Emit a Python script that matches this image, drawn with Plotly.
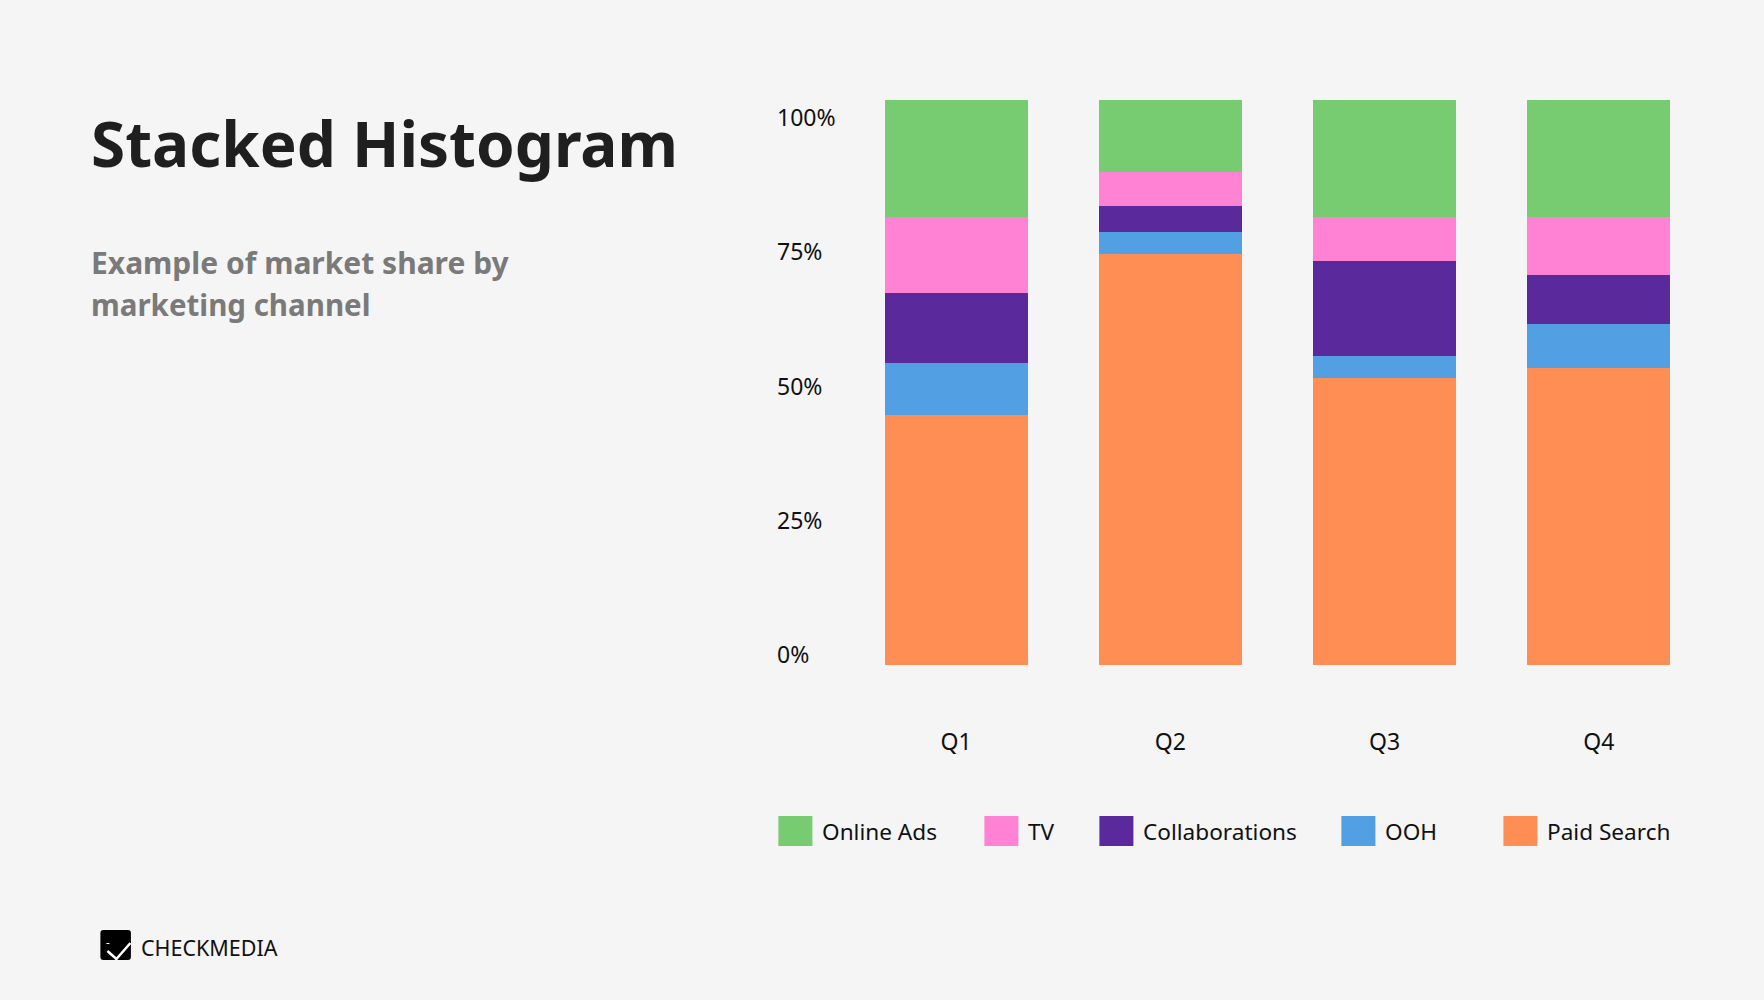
import plotly.graph_objects as go

quarters = ['Q1', 'Q2', 'Q3', 'Q4']
paid_search = [44.2, 72.7, 50.8, 52.5]
ooh = [9.3, 4.0, 3.9, 7.9]
collaborations = [12.4, 4.6, 16.8, 8.7]
tv = [13.4, 5.9, 7.8, 10.2]
online_ads = [20.7, 12.8, 20.7, 20.7]
y_ticks = [0, 25, 50, 75, 100]
y_tick_labels = ['0%', '25%', '50%', '75%', '100%']

W = 1764
H = 1000
FONT = 'Noto Sans'
BG = '#f5f5f5'
TEXT = '#111111'
LEFT = 848.6
RIGHT = 58.4
TOP = 100
BOTTOM = 335

series = [
    ('Paid Search', paid_search, '#ff8e55'),
    ('OOH', ooh, '#529fe4'),
    ('Collaborations', collaborations, '#5a2a9c'),
    ('TV', tv, '#ff82d4'),
    ('Online Ads', online_ads, '#77cc72'),
]

# left edge of each legend swatch, the gaps in the reference are uneven
legend_x = {'Online Ads': 778, 'TV': 984, 'Collaborations': 1099, 'OOH': 1341, 'Paid Search': 1503}


# paper coordinates are relative to the plot area, convert from page pixels
def px(x):
    return (x - LEFT) / (W - LEFT - RIGHT)


def py(y):
    return (H - BOTTOM - y) / (H - BOTTOM - TOP)


fig = go.Figure()

for name, values, color in series:
    fig.add_trace(go.Bar(
        x=quarters,
        y=values,
        name=name,
        marker_color=color,
        marker_line_width=0,
        width=0.668,
        showlegend=False))

# invisible trace, only there so the label axis exists
fig.add_trace(go.Scatter(
    x=[quarters[0]] * len(y_ticks),
    y=y_ticks,
    yaxis='y2',
    mode='markers',
    marker_opacity=0,
    hoverinfo='skip',
    showlegend=False))

annotations = []
shapes = []


def add_text(text, x, y, size, color=TEXT, weight=400, yref='paper'):
    # xshift takes off the padding plotly puts around annotation text
    annotations.append(dict(
        text=text, x=px(x), y=y, xref='paper', yref=yref,
        xanchor='left', yanchor='middle', showarrow=False, xshift=-3.5,
        font=dict(family=FONT, size=size, color=color, weight=weight)))


add_text('Stacked Histogram', 92, py(143), 62, '#1f1f1f', 700)
add_text('Example of market share by', 92, py(262), 30, '#7a7a7a', 700)
add_text('marketing channel', 92, py(304), 29.5, '#7a7a7a', 700)

for tick, label in zip(y_ticks, y_tick_labels):
    add_text(label, 778, tick, 23, yref='y2')

for name, color in [(s[0], s[2]) for s in reversed(series)]:
    left = legend_x[name]
    shapes.append(dict(
        type='rect', xref='paper', yref='paper',
        x0=px(left), x1=px(left + 34), y0=py(846), y1=py(816),
        fillcolor=color, line_width=0))
    add_text(name, left + 45, py(831), 22.6)

# logo, a rounded black square with a white tick running out of its corner
x0, x1, y0, y1 = px(100), px(130.5), py(960), py(930)
rx, ry = px(103) - px(100), py(930) - py(933)
shapes.append(dict(
    type='path', xref='paper', yref='paper',
    path=('M %f %f L %f %f Q %f %f %f %f L %f %f Q %f %f %f %f '
          'L %f %f Q %f %f %f %f L %f %f Q %f %f %f %f Z') % (
        x0 + rx, y1, x1 - rx, y1, x1, y1, x1, y1 - ry,
        x1, y0 + ry, x1, y0, x1 - rx, y0,
        x0 + rx, y0, x0, y0, x0, y0 + ry,
        x0, y1 - ry, x0, y1, x0 + rx, y1),
    fillcolor='#000000', line_width=0))
shapes.append(dict(
    type='path', xref='paper', yref='paper',
    path='M %f %f L %f %f L %f %f' % (px(107), py(951), px(116), py(959), px(130), py(943)),
    line=dict(color='#ffffff', width=2.5)))
shapes.append(dict(
    type='line', xref='paper', yref='paper',
    x0=px(106), x1=px(109), y0=py(943.5), y1=py(943.5),
    line=dict(color='#ffffff', width=1)))
add_text('CHECKMEDIA', 142, py(947), 21.5)

fig.update_layout(
    width=W,
    height=H,
    barmode='stack',
    paper_bgcolor=BG,
    plot_bgcolor=BG,
    margin=dict(l=LEFT, r=RIGHT, t=TOP, b=BOTTOM, autoexpand=False),
    font=dict(family=FONT, size=23, color=TEXT),
    annotations=annotations,
    shapes=shapes,
    xaxis=dict(
        range=[-0.5, 3.5],
        showgrid=False,
        zeroline=False,
        showline=False,
        ticks='',
        ticklabelstandoff=61),
    yaxis=dict(
        range=[0, 100],
        showgrid=False,
        zeroline=False,
        showline=False,
        showticklabels=False),
    yaxis2=dict(
        overlaying='y',
        range=[-2.05, 103.17],
        visible=False))

fig.write_html('out.html', config={'displayModeBar': False},
               post_script="document.body.style.margin='0';document.body.style.background='#f5f5f5';")
